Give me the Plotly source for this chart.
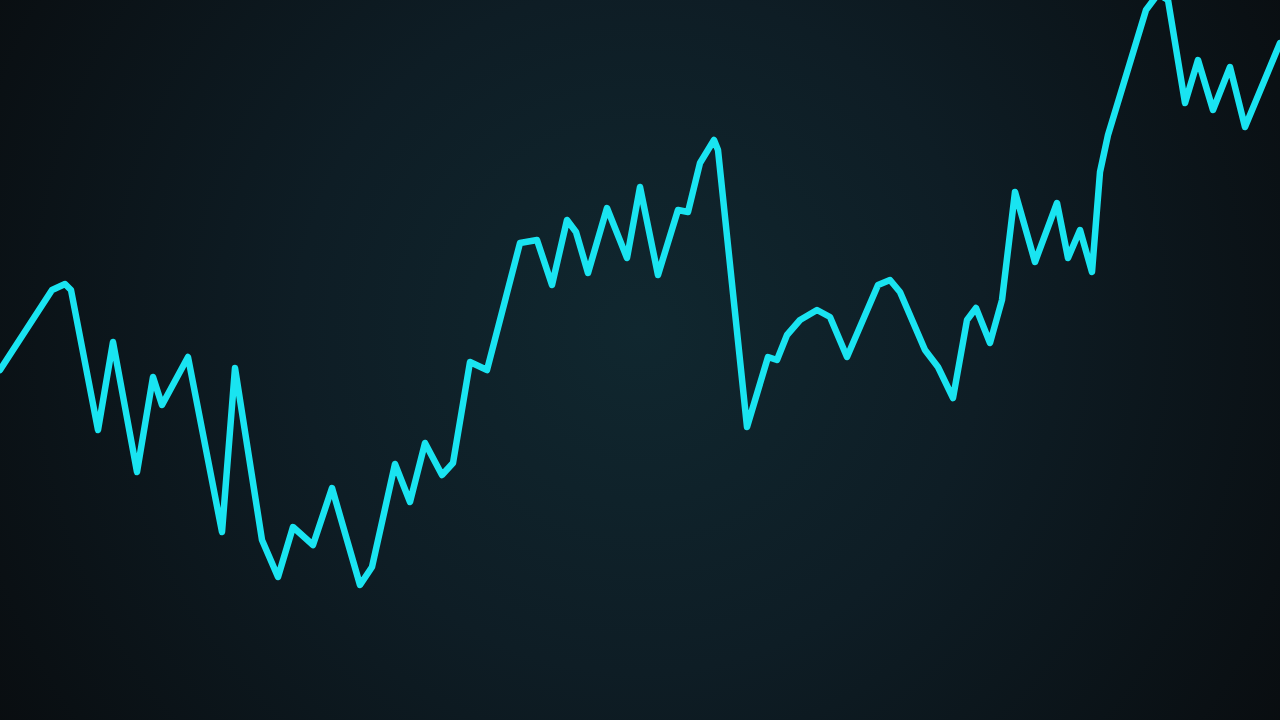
import plotly.graph_objects as go
import urllib.parse

# Data (x = time position, y = pixel row of the line, top = 0)
t = [0, 52, 65, 71, 98, 113, 137, 153, 162, 188, 222, 235, 262, 278, 293, 313, 332,
     360, 372, 395, 410, 425, 442, 453, 470, 487, 520, 537, 552, 567, 576, 588, 607,
     627, 640, 658, 678, 688, 700, 714, 718, 747, 768, 777, 787, 800, 817, 830, 847,
     878, 890, 900, 925, 938, 953, 967, 976, 990, 1002, 1015, 1035, 1057, 1068, 1080,
     1092, 1100, 1108, 1130, 1146, 1158, 1168, 1185, 1198, 1213, 1230, 1245, 1280]
row = [370, 290, 284, 290, 430, 342, 472, 377, 405, 357, 532, 368, 540, 577, 527, 545, 488,
       585, 567, 464, 502, 443, 475, 463, 362, 370, 243, 240, 285, 220, 232, 273, 208,
       258, 187, 275, 210, 212, 163, 140, 150, 427, 357, 360, 335, 320, 310, 317, 357,
       285, 280, 292, 350, 367, 398, 320, 308, 343, 300, 192, 262, 203, 258, 230,
       272, 172, 135, 65, 10, -6, 0, 103, 60, 110, 67, 127, 43]
price = [720 - r for r in row]

LINE_COLOR = "#19e4f1"

svg = (
    '<svg xmlns="http://www.w3.org/2000/svg" width="1280" height="720">'
    '<defs><radialGradient id="g" cx="640" cy="330" r="760" gradientUnits="userSpaceOnUse">'
    '<stop offset="0" stop-color="#10272f"/>'
    '<stop offset="0.45" stop-color="#0e1d25"/>'
    '<stop offset="1" stop-color="#090d10"/>'
    '</radialGradient></defs>'
    '<rect width="1280" height="720" fill="url(#g)"/></svg>'
)
bg_uri = "data:image/svg+xml;charset=utf-8," + urllib.parse.quote(svg)

fig = go.Figure()
fig.add_trace(go.Scatter(
    x=t, y=price, mode="lines",
    line=dict(color=LINE_COLOR, width=6.5),
    hoverinfo="skip", showlegend=False,
))

fig.update_layout(
    width=1280, height=720,
    margin=dict(l=0, r=0, t=0, b=0),
    paper_bgcolor="#0c1419",
    plot_bgcolor="rgba(0,0,0,0)",
    xaxis=dict(range=[0, 1280], visible=False, fixedrange=True),
    yaxis=dict(range=[0, 720], visible=False, fixedrange=True),
    images=[dict(
        source=bg_uri, xref="paper", yref="paper", x=0, y=1,
        sizex=1, sizey=1, sizing="stretch", layer="below",
        xanchor="left", yanchor="top",
    )],
)

post = (
    "document.body.style.margin='0';"
    "document.body.style.background='#0a0f13';"
    "document.body.style.overflow='hidden';"
    "document.querySelectorAll('.scatterlayer path.js-line').forEach(function(p){"
    "p.style.strokeLinejoin='round';p.style.strokeLinecap='round';});"
)

fig.write_html("out.html", config={"displayModeBar": False}, post_script=post)
